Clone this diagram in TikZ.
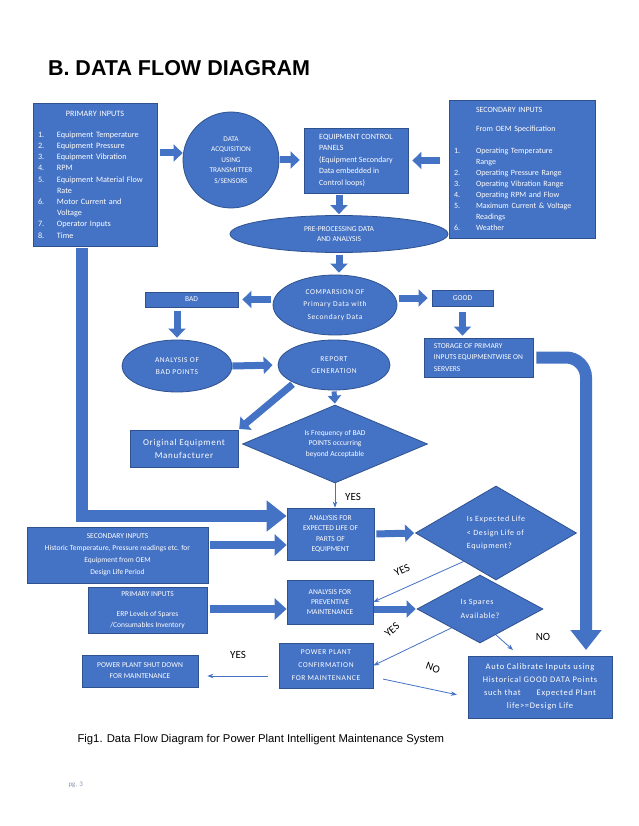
\documentclass[tikz,border=0pt]{standalone}
\usepackage{fontspec}
\setmainfont{Carlito}
\newfontfamily\arialfont{Liberation Sans}
\newfontfamily\spacedfont[LetterSpace=8]{Carlito}
\usetikzlibrary{arrows.meta,shapes.geometric,calc}
\definecolor{boxblue}{HTML}{4472C4}
\definecolor{edgeblue}{HTML}{2F528F}
\definecolor{pagegray}{HTML}{8496B0}

\begin{document}
\begin{tikzpicture}[x=1pt,y=-1pt,
main node/.style={rectangle,draw=edgeblue,fill=boxblue,text=white,line width=0.8pt,inner sep=0pt,font=\fontsize{7.5}{10.5}\selectfont},
round node/.style={ellipse,draw=edgeblue,fill=boxblue,text=white,line width=0.8pt,inner sep=0pt,align=center},
choice node/.style={diamond,draw=edgeblue,fill=boxblue,text=white,line width=0.8pt,inner sep=0pt},
block arrow/.style={draw=boxblue,line width=7pt,-{Triangle[length=9pt,width=17pt]}},
big arrow/.style={draw=boxblue,line width=12pt,-{Triangle[length=20pt,width=30pt]},line join=miter},
thin arrow/.style={draw=boxblue,line width=0.8pt,-{Stealth[length=6pt,width=4.5pt]}},
label text/.style={font=\fontsize{11}{11}\selectfont,inner sep=1pt}]
\fill[white] (0,0) rectangle (638,826);
\useasboundingbox (0,0) rectangle (638,826);
\node[font=\arialfont\bfseries\fontsize{21.5}{21.5}\selectfont] (0) at (179,68) {B. DATA FLOW DIAGRAM};
\node[main node,minimum width=124pt,minimum height=143pt,font=\fontsize{8.2}{11.2}\selectfont,text width=114pt,align=left] (1) at (95,174.5) {\makebox[114pt]{PRIMARY INPUTS}\\[10pt]
\makebox[19pt][l]{1.}Equipment Temperature\\
\makebox[19pt][l]{2.}Equipment Pressure\\
\makebox[19pt][l]{3.}Equipment Vibration\\
\makebox[19pt][l]{4.}RPM\\
\makebox[19pt][l]{5.}Equipment Material Flow\\
\hspace*{19pt}Rate\\
\makebox[19pt][l]{6.}Motor Current and\\
\hspace*{19pt}Voltage\\
\makebox[19pt][l]{7.}Operator Inputs\\
\makebox[19pt][l]{8.}Time};
\node[main node,circle,minimum size=96pt,font=\fontsize{7.3}{10.5}\selectfont,align=center] (2) at (231,160) {DATA\\ACQUISITION\\USING\\TRANSMITTER\\S/SENSORS};
\node[main node,minimum width=104pt,minimum height=65pt,font=\fontsize{8}{11.5}\selectfont,align=left] (3) at (356,160.5) {EQUIPMENT CONTROL\\PANELS\\(Equipment Secondary\\Data embedded in\\Control loops)};
\node[main node,minimum width=146pt,minimum height=138pt,font=\fontsize{8}{11}\selectfont,text width=136pt,align=left] (4) at (522,169) {\hspace*{22pt}SECONDARY INPUTS\\[8pt]
\hspace*{22pt}From OEM Specification\\[11pt]
\makebox[22pt][l]{1.}Operating Temperature\\
\hspace*{22pt}Range\\
\makebox[22pt][l]{2.}Operating Pressure Range\\
\makebox[22pt][l]{3.}Operating Vibration Range\\
\makebox[22pt][l]{4.}Operating RPM and Flow\\
\makebox[22pt][l]{5.}Maximum Current \& Voltage\\
\hspace*{22pt}Readings\\
\makebox[22pt][l]{6.}Weather};
\node[round node,minimum width=218pt,minimum height=37pt,font=\fontsize{7.5}{10.5}\selectfont] (5) at (339,234) {PRE-PROCESSING DATA\\AND ANALYSIS};
\node[round node,minimum width=124pt,minimum height=60pt,font=\spacedfont\fontsize{7.5}{12.5}\selectfont] (6) at (335,305) {COMPARSION OF\\Primary Data with\\Secondary Data};
\node[main node,minimum width=93pt,minimum height=15pt] (7) at (191.5,299.5) {BAD};
\node[main node,minimum width=61pt,minimum height=16pt] (8) at (462.5,298) {GOOD};
\node[round node,minimum width=110pt,minimum height=52pt,font=\spacedfont\fontsize{7.5}{12}\selectfont] (9) at (177,366) {ANALYSIS OF\\BAD POINTS};
\node[round node,minimum width=112pt,minimum height=50pt,font=\spacedfont\fontsize{7.5}{12}\selectfont] (10) at (334,365) {REPORT\\GENERATION};
\node[main node,minimum width=109pt,minimum height=39pt,font=\fontsize{7.5}{11.5}\selectfont,align=left] (11) at (478.5,357.5) {STORAGE OF PRIMARY\\INPUTS EQUIPMENTWISE ON\\SERVERS};
\node[main node,minimum width=108pt,minimum height=37pt,font=\spacedfont\fontsize{9}{13}\selectfont,align=center] (12) at (184,448.5) {Original Equipment\\Manufacturer};
\node[choice node,aspect=2.4,minimum width=185pt,minimum height=78pt,font=\fontsize{7.5}{10.5}\selectfont,align=center] (13) at (335,444) {Is Frequency of BAD\\POINTS occurring\\beyond Acceptable};
\node[main node,minimum width=87pt,minimum height=52pt,align=center] (14) at (330.5,534) {ANALYSIS FOR\\EXPECTED LIFE OF\\PARTS OF\\EQUIPMENT};
\node[main node,minimum width=181pt,minimum height=56pt,font=\fontsize{7.5}{12}\selectfont,align=center] (15) at (117.5,555) {SECONDARY INPUTS\\Historic Temperature, Pressure readings etc. for\\Equipment from OEM\\Design Life Period};
\node[choice node,aspect=1.7,minimum width=161pt,minimum height=94pt,font=\spacedfont\fontsize{8}{13.5}\selectfont,align=left] (16) at (496,533) {Is Expected Life\\< Design Life of\\Equipment?};
\node[main node,minimum width=86pt,minimum height=44pt,font=\fontsize{7.5}{10}\selectfont,align=center] (17) at (330,602) {ANALYSIS FOR\\PREVENTIVE\\MAINTENANCE};
\node[main node,minimum width=119pt,minimum height=46pt,align=center] (18) at (147.5,610) {PRIMARY INPUTS\\[10pt]ERP Levels of Spares\\/Consumables Inventory};
\node[choice node,aspect=1.85,minimum width=126pt,minimum height=68pt,font=\spacedfont\fontsize{8}{14}\selectfont,align=left] (19) at (480,609) {Is Spares\\Available?};
\node[main node,minimum width=94pt,minimum height=45pt,font=\spacedfont\fontsize{7.5}{13}\selectfont,align=center] (20) at (326,665.5) {POWER PLANT\\CONFIRMATION\\FOR MAINTENANCE};
\node[main node,minimum width=116pt,minimum height=32pt,font=\fontsize{7.5}{11}\selectfont,align=center] (21) at (140,671) {POWER PLANT SHUT DOWN\\FOR MAINTENANCE};
\node[main node,minimum width=144pt,minimum height=62pt,font=\spacedfont\fontsize{8.5}{13}\selectfont,align=center] (22) at (540,687) {Auto Calibrate Inputs using\\Historical GOOD DATA Points\\such that\hspace{16pt}Expected Plant\\life>=Design Life};
\node[label text] (23) at (353,497) {YES};
\node[label text,rotate=25] (24) at (402,570) {YES};
\node[label text,rotate=40] (25) at (392,630) {YES};
\node[label text] (26) at (543,637) {NO};
\node[label text] (27) at (238,655) {YES};
\node[label text,rotate=-20] (28) at (433,668) {NO};
\node[font=\arialfont\fontsize{11.3}{11.3}\selectfont,anchor=west] (29) at (74,740) {Fig1. Data Flow Diagram for Power Plant Intelligent Maintenance System};
\node[font=\fontsize{7}{7}\selectfont,text=pagegray,anchor=west] (30) at (65,785) {pg. 3};
\coordinate (c1) at (513,650);
\coordinate (c2) at (586,650);
\draw[block arrow,shorten <=3pt] (1.east |- 0,153) -- (2.west |- 0,153);
\draw[block arrow,shorten <=1pt,shorten >=4pt] (2.east) -- (3.west |- 2.east);
\draw[block arrow,shorten <=9pt,shorten >=4pt] (4.west |- 3.east) -- (3.east);
\draw[block arrow,shorten <=2pt,shorten >=1pt] (3.south -| 5.north) -- (5.north);
\draw[block arrow,shorten <=2pt,shorten >=2pt] (5.south) -- (5.south |- 6.north);
\draw[block arrow,shorten <=2pt,shorten >=4pt] (6.west |- 7.east) -- (7.east);
\draw[block arrow,shorten <=2pt,shorten >=4pt] (6.east |- 8.west) -- (8.west);
\draw[block arrow,shorten <=4pt,shorten >=2pt] (7.south -| 9.north) -- (9.north);
\draw[block arrow,shorten <=6pt,shorten >=2pt] (8.south) -- (8.south |- 11.north);
\draw[block arrow,shorten >=5pt] (9.east) -- (10.west);
\draw[block arrow,shorten <=2pt,shorten >=1pt] (10.south west) -- (12.north east);
\draw[block arrow,line width=5pt,-{Triangle[length=8pt,width=13pt]},shorten <=1pt,shorten >=1pt] (10.south) -- (13.north);
\draw[thin arrow] (13.south) -- (13.south |- 14.north);
\draw[big arrow,shorten <=2pt] (1.south -| 82,0) |- (14.west |- 0,516);
\draw[block arrow,line width=8pt,-{Triangle[length=12pt,width=21pt]},shorten <=2pt] (15.east |- 0,545) -- (14.west |- 0,545);
\draw[block arrow,shorten <=2pt,shorten >=1pt] (14.east) -- (16.west);
\draw[thin arrow] ($(16.west)!0.6!(16.south)$) -- (17.east);
\draw[block arrow,line width=8pt,-{Triangle[length=12pt,width=21pt]},shorten <=3pt] (18.east |- 0,609) -- (17.west |- 0,609);
\draw[block arrow,shorten <=1pt,shorten >=1pt] (17.east |- 19.west) -- (19.west);
\draw[thin arrow] ($(19.west)!0.55!(19.south)$) -- (20.east);
\draw[thin arrow] ($(19.south)!0.25!(19.east)$) -- (c1);
\draw[thin arrow,shorten <=11pt,shorten >=9pt] (20.west |- 0,676) -- (21.east |- 0,676);
\draw[thin arrow,shorten <=10pt,shorten >=11pt] (20.east |- 0,677) -- (22.west |- 0,697);
\draw[big arrow,rounded corners=20pt,shorten <=3pt] (11.east) -| (c2);
\end{tikzpicture}
\end{document}
